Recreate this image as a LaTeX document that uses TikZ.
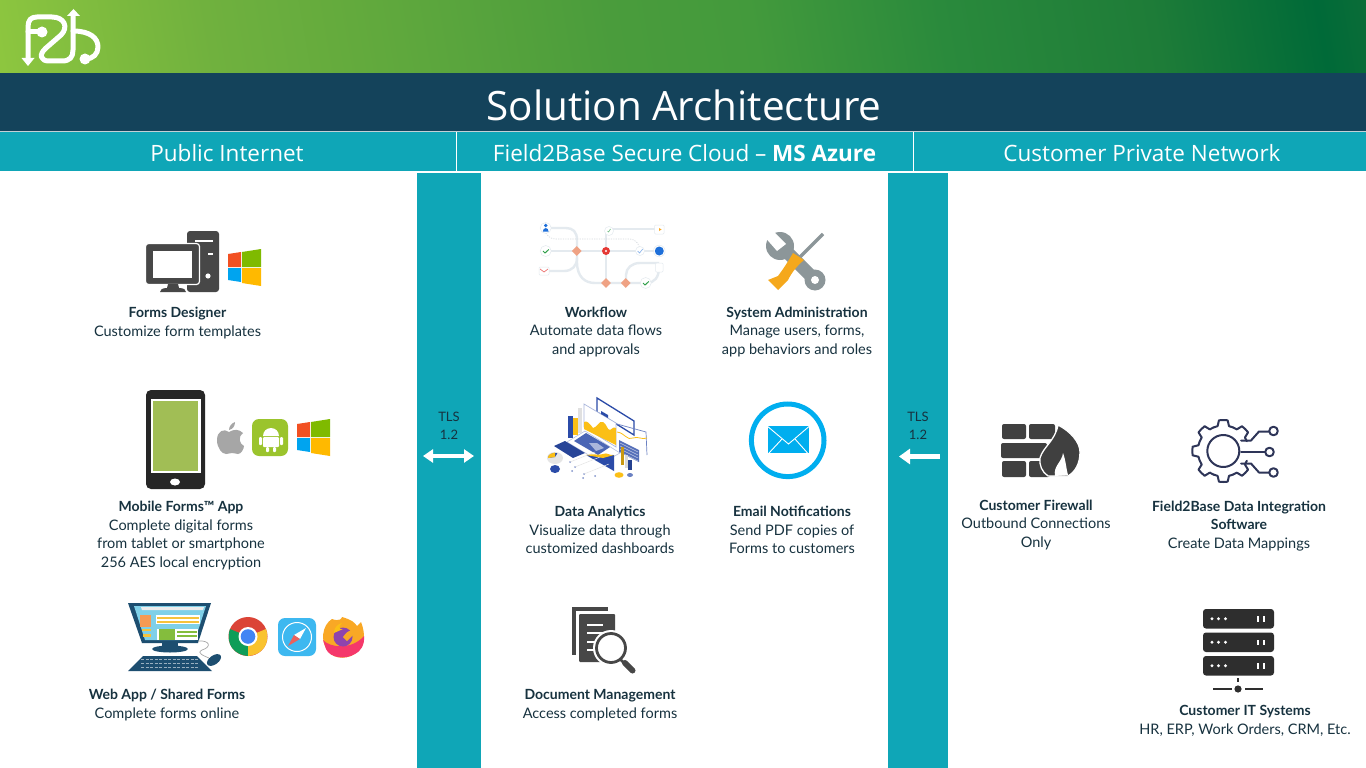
\documentclass[tikz,border=0pt]{standalone}
\usepackage{xcolor}
\usepackage{fontspec}
\usepackage{tikz}
\usetikzlibrary{arrows.meta}
\setmainfont{Lato}
\newfontfamily\headfont{Open Sans}

\definecolor{navyband}{HTML}{14435B}
\definecolor{tealband}{HTML}{0FA6B7}
\definecolor{labelcol}{HTML}{17323F}
\definecolor{icongray}{HTML}{474747}
\definecolor{winred}{HTML}{F25022}
\definecolor{wingreen}{HTML}{7FBA00}
\definecolor{winblue}{HTML}{00A4EF}
\definecolor{winyellow}{HTML}{FFB900}
\definecolor{flowline}{HTML}{E4EAEF}
\definecolor{floworange}{HTML}{EFA284}
\definecolor{flowcheck}{HTML}{2E9E48}
\definecolor{flowblue}{HTML}{1E6FD9}
\definecolor{flowred}{HTML}{E53935}
\definecolor{chartblue}{HTML}{2B4BA8}
\definecolor{chartyellow}{HTML}{FBBF16}
\definecolor{gearblue}{HTML}{2E3558}
\definecolor{mailblue}{HTML}{00AEEF}
\definecolor{webnavy}{HTML}{1D4E70}
\definecolor{websky}{HTML}{7FD0E8}
\definecolor{weborange}{HTML}{F79A52}
\definecolor{webyellow}{HTML}{F6C33B}
\definecolor{webgreen}{HTML}{84BD3D}
\definecolor{phonegreen}{HTML}{A1BE55}
\definecolor{androidgreen}{HTML}{9BC42D}
\definecolor{chromered}{HTML}{DB4437}
\definecolor{chromegreen}{HTML}{0F9D58}
\definecolor{chromeyellow}{HTML}{F9C32F}
\definecolor{chromeblue}{HTML}{4285F4}
\definecolor{safarisky}{HTML}{3DB8F0}
\definecolor{foxorange}{HTML}{F9A825}
\definecolor{foxpink}{HTML}{F5386B}
\definecolor{foxpurple}{HTML}{8E44AD}
\definecolor{toolgray}{HTML}{8C9699}
\definecolor{toolorange}{HTML}{F5A81C}
\definecolor{bannera}{HTML}{8DC63F}
\definecolor{bannerb}{HTML}{70B13E}
\definecolor{bannerc}{HTML}{5FA83D}
\definecolor{bannerd}{HTML}{4A9C3C}
\definecolor{bannere}{HTML}{439A3C}
\definecolor{bannerf}{HTML}{2A8A3C}
\definecolor{bannerg}{HTML}{1E7C38}
\definecolor{bannerh}{HTML}{006A38}
\definecolor{banneri}{HTML}{0F6E38}

\pgfdeclarehorizontalshading{bannershade}{100bp}{
  color(0bp)=(bannera);
  color(21bp)=(bannera);
  color(30bp)=(bannerb);
  color(38bp)=(bannerc);
  color(47bp)=(bannerd);
  color(53bp)=(bannere);
  color(61bp)=(bannerf);
  color(70bp)=(bannerg);
  color(77bp)=(bannerh);
  color(80bp)=(banneri);
  color(100bp)=(banneri)}

\tikzset{
  title/.style={text=white,font=\headfont\fontsize{40.4}{46}\selectfont,inner sep=0pt},
  header/.style={text=white,font=\headfont\fontsize{22.5}{28}\selectfont,inner sep=0pt},
  lbl/.style={text=labelcol,align=center,inner sep=0pt,font=\fontsize{14.5}{18.5}\selectfont},
  tls/.style={text=labelcol,align=center,inner sep=0pt,font=\fontsize{13}{18}\selectfont},
  tlsarrow/.style={white,line width=4pt,{Triangle[length=10pt,width=13pt]}-{Triangle[length=10pt,width=13pt]}},
  tlsleft/.style={white,line width=5pt,{Triangle[length=11pt,width=15pt]}-},
  logoline/.style={white,line width=5pt,line cap=round,line join=round},
  flow/.style={flowline,line width=2.4pt},
  flowdot/.style={white,draw=flowline,line width=0.5pt},
  gearline/.style={gearblue,line width=2pt,line cap=round,line join=round}
}

\newcommand{\lblhead}[1]{{\fontsize{14}{18.5}\selectfont\bfseries #1}}

\newcommand{\winlogo}[2]{
  \fill[winred] (#1,#2+5) -- (#1+13,#2+3) -- (#1+13,#2+18) -- (#1,#2+18) -- cycle;
  \fill[wingreen] (#1+14,#2+3) -- (#1+33,#2) -- (#1+33,#2+18) -- (#1+14,#2+18) -- cycle;
  \fill[winblue] (#1,#2+19) -- (#1+13,#2+19) -- (#1+13,#2+33) -- (#1,#2+31) -- cycle;
  \fill[winyellow] (#1+14,#2+19) -- (#1+33,#2+19) -- (#1+33,#2+37) -- (#1+14,#2+34) -- cycle;
}

\begin{document}
\begin{tikzpicture}[x=1pt,y=-1pt]
  \useasboundingbox (0,0) rectangle (1366,768);
  \fill[white] (0,0) rectangle (1366,768);

  % bands
  \shade[shading=bannershade,shading angle=10] (0,0) rectangle (1366,73);
  \fill[navyband] (0,73) rectangle (1366,131);
  \fill[tealband] (0,132) rectangle (1366,171);
  \fill[tealband] (417,173) rectangle (481,768);
  \fill[tealband] (888,173) rectangle (948,768);
  \draw[white,line width=0.8pt] (456,132) -- (456,171);
  \draw[white,line width=0.8pt] (913,132) -- (913,171);
  \draw[white!75!navyband,line width=1pt] (0,131.5) -- (1366,131.5);

  \node[title] (titletext) at (684,105) {Solution Architecture};
  \node[header] (pubhead) at (227,153) {Public Internet};
  \node[header] (cloudhead) at (684.5,153) {Field2Base Secure Cloud – \textbf{MS Azure}};
  \node[header] (privhead) at (1142,153) {Customer Private Network};

  % logo
  \draw[logoline] (28,58) -- (28,27) .. controls (28,20) and (31,17) .. (37,17) -- (52,17)
    .. controls (64,17) and (69,27) .. (61,35) -- (46,48) .. controls (38,55) and (41,61) .. (49,61)
    -- (62,61) .. controls (70,61) and (73,57) .. (73,50) -- (73,16);
  \draw[logoline] (28,32) -- (42,32);
  \draw[logoline] (73,31) .. controls (90,31) and (98,38) .. (98,47) .. controls (98,54) and (93,59) .. (85,59);
  \fill[white] (42,32) circle (5.5);
  \fill[white] (85,59) circle (5.5);
  \fill[white] (21.5,58) -- (34.5,58) -- (28,66) -- cycle;
  \fill[white] (67,16) -- (80,16) -- (73.5,9) -- cycle;

  % forms designer
  \fill[icongray,rounded corners=3pt] (187,231) rectangle (219,292);
  \draw[white,line width=1.2pt] (195,241) -- (213,241);
  \draw[white,line width=1.2pt] (208,254) -- (213,254);
  \fill[white] (208,276) circle (2.6);
  \filldraw[fill=icongray,draw=white,line width=1.2pt,rounded corners=3pt] (145.5,243.5) rectangle (199.5,284.5);
  \fill[white] (153,251) rectangle (192,278);
  \fill[icongray] (168,284) -- (178,284) -- (179,288) .. controls (184,288) and (186,290) .. (186,292)
    -- (160,292) .. controls (160,290) and (162,288) .. (167,288) -- cycle;
  \winlogo{228}{249}

  % mobile app
  \fill[black!85,rounded corners=5pt] (146,390) rectangle (205,489);
  \fill[white] (151,399) rectangle (200.5,473);
  \fill[phonegreen] (153,401) rectangle (198,471);
  \fill[white] (175,482) ellipse (5 and 3.5);
  \fill[gray!70] (229,432) .. controls (224,428) and (217,431) .. (217,440) .. controls (217,448) and (222,454) .. (226,454)
    .. controls (228,454) and (230,453) .. (232,453) .. controls (235,453) and (236,454) .. (238,454)
    .. controls (241,454) and (244,449) .. (244,446) .. controls (239,444) and (238,436) .. (243,433)
    .. controls (239,429) and (234,429) .. cycle;
  \fill[gray!70] (229,430) .. controls (229,426) and (232,423) .. (235,422) .. controls (235,426) and (233,429) .. (229,430) -- cycle;
  \fill[androidgreen,rounded corners=7pt] (252,419) rectangle (288,456);
  \fill[white] (263,436) arc[start angle=180,end angle=360,x radius=8,y radius=8] -- cycle;
  \fill[white,rounded corners=1pt] (263,437) rectangle (279,447);
  \fill[white,rounded corners=1pt] (259,437) rectangle (262,445);
  \fill[white,rounded corners=1pt] (280,437) rectangle (283,445);
  \fill[white,rounded corners=1pt] (266,447) rectangle (269,452);
  \fill[white,rounded corners=1pt] (273,447) rectangle (276,452);
  \winlogo{297}{419}

  % web app
  \fill[webnavy] (128,603) -- (211,603) -- (198,643) -- (142,643) -- cycle;
  \fill[websky] (134,606) -- (206,606) -- (195,640) -- (145,640) -- cycle;
  \fill[white!85!gray] (141,607) -- (204,607) -- (203,610) -- (142,610) -- cycle;
  \fill[weborange] (140,615) rectangle (151,627);
  \fill[webyellow] (142,629) rectangle (151,631);
  \fill[webyellow] (143,634) rectangle (151,637);
  \fill[white] (156,615) rectangle (200,624);
  \fill[webyellow] (157,617) rectangle (199,619);
  \fill[webyellow] (157,621) rectangle (199,623);
  \fill[white] (157,629) rectangle (198,640);
  \fill[webgreen] (159,629) rectangle (175,640);
  \fill[webgreen] (177,631) rectangle (197,633);
  \fill[webgreen] (177,635) rectangle (197,637);
  \fill[webnavy] (162,643) rectangle (178,648);
  \fill[webnavy] (170,649) ellipse (18 and 3.5);
  \draw[gray!70,line width=0.7pt] (198,641) .. controls (210,640) and (212,647) .. (202,650) .. controls (196,653) and (204,656) .. (209,658);
  \fill[webnavy] (143,656) -- (197,656) -- (212,671) -- (128,671) -- cycle;
  \foreach \ky in {659,663,667}
    \draw[white!55!webnavy,line width=1pt,dash pattern=on 3pt off 1.5pt] (141,\ky) -- (199,\ky);
  \fill[webnavy,rotate around={35:(214,660)}] (214,660) ellipse (8 and 4.5);
  \fill[chromered] (248,636.5) circle (19.5);
  \fill[chromegreen] (248,636.5) -- (230,629) .. controls (225,645) and (235,655) .. (248,656) -- cycle;
  \fill[chromeyellow] (248,636.5) -- (266,629) .. controls (271,645) and (261,655) .. (248,656) -- cycle;
  \fill[white] (248,636.5) circle (9.5);
  \fill[chromeblue] (248,636.5) circle (7.3);
  \fill[safarisky,rounded corners=7pt] (278,618) rectangle (316,656);
  \draw[white,line width=1pt] (297,637) circle (14.5);
  \fill[white] (306,628) -- (294,635) -- (300,639) -- cycle;
  \fill[flowred!80] (288,646) -- (294,635) -- (300,639) -- cycle;
  \fill[foxorange] (332,619) .. controls (340,622) and (342,618) .. (342,617) .. controls (352,620) and (354,622) .. (357,626)
    .. controls (358,625) and (360,623) .. (361,622) .. controls (365,632) and (366,645) .. (358,651)
    .. controls (350,660) and (334,660) .. (328,651) .. controls (320,642) and (322,625) .. (332,619) -- cycle;
  \fill[foxpink] (323,640) .. controls (330,648) and (352,650) .. (364,636) .. controls (365,645) and (360,652) .. (355,654)
    .. controls (345,660) and (330,658) .. (326,649) -- cycle;
  \fill[foxpurple] (343,637) circle (9.5);
  \fill[foxorange] (343,637) .. controls (349,628) and (354,630) .. (358,633) .. controls (353,633) and (351,638) .. (347,641) -- cycle;
  \fill[chartyellow] (334,633) .. controls (334,627) and (338,624) .. (342,623) .. controls (338,627) and (339,630) .. (343,629) -- cycle;

  % workflow
  \draw[flow] (546,228) -- (566,228) .. controls (573,228) and (577,232) .. (577,240) -- (577,262)
    .. controls (577,277) and (585,283) .. (595,283) -- (646,283) .. controls (655,283) and (659,277) .. (659,267);
  \draw[flow] (546,251) -- (659,251);
  \draw[flow] (544,271) -- (564,271) .. controls (572,271) and (577,266) .. (577,258);
  \draw[flow] (606,231) -- (606,283);
  \draw[flow] (609,229) -- (659,229);
  \draw[flow] (626,283) -- (626,275) .. controls (626,268) and (632,263) .. (640,263) -- (659,263);
  \draw[flowline!85!gray,line width=0.7pt,dash pattern=on 1.2pt off 1.2pt] (546,233) .. controls (549,238) and (552,239) .. (556,239) -- (630,239) .. controls (636,239) and (640,245) .. (640,251);
  \filldraw[flowdot] (545.7,228) circle (5.5);
  \fill[flowblue] (545.7,225.5) circle (1.8);
  \fill[flowblue] (542.8,231.5) .. controls (543,227) and (548.5,227) .. (548.6,231.5) -- cycle;
  \filldraw[flowdot] (609,231) circle (4.5);
  \draw[flowcheck!70,line width=0.6pt] (607.5,231) -- (608.5,232) -- (610.5,229);
  \filldraw[flowdot,rounded corners=1pt] (654.5,225) rectangle (664,234);
  \fill[foxorange] (659,228) -- (661.5,229.5) -- (659,231) -- cycle;
  \filldraw[flowdot] (545.7,251) circle (5.5);
  \draw[flowcheck,line width=1pt] (543,251) -- (545,253) -- (548.8,249.5);
  \fill[floworange,rotate around={45:(576.7,251)}] (573.2,247.5) rectangle (580.2,254.5);
  \fill[flowred] (606,251) circle (4);
  \fill[white] (606,251) circle (1.1);
  \filldraw[flowdot] (640,251) circle (4.5);
  \draw[flowblue!50,line width=0.7pt] (637.5,251) -- (639.5,253) -- (642.8,249);
  \filldraw[flowdot] (659.3,251) circle (5.8);
  \fill[flowblue] (659.3,251) circle (4.5);
  \filldraw[flowdot,rounded corners=1pt] (539,267) rectangle (549,275);
  \draw[flowred!70,line width=0.7pt] (540,269) -- (544,272) -- (548,269);
  \filldraw[flowdot,rounded corners=1pt] (655.5,263) rectangle (663,272);
  \fill[floworange,rotate around={45:(606,283)}] (602.5,279.5) rectangle (609.5,286.5);
  \fill[floworange,rotate around={45:(625.7,283)}] (622.2,279.5) rectangle (629.2,286.5);
  \filldraw[flowdot] (645.7,283) circle (5.5);
  \draw[flowcheck,line width=1pt] (643,283) -- (645,285) -- (648.8,281.5);

  % system administration
  \draw[toolgray,line width=3.5pt] (823,234) -- (800,257);
  \draw[toolgray,line width=13pt] (780,245) -- (815,280);
  \fill[toolgray] (780,246) circle (14);
  \fill[white] (771,229) -- (786,244) -- (777,251) -- (763,235) -- cycle;
  \fill[toolgray] (815,280) circle (10.5);
  \fill[white] (815,280) circle (4);
  \fill[toolorange] (793,253) -- (804,260) .. controls (797,266) and (792,272) .. (788,280) -- (778,290)
    -- (768,280) -- (778,276) .. controls (784,268) and (789,260) .. cycle;

  % data analytics
  \filldraw[fill=white,draw=chartblue,line width=1.3pt] (597,398) -- (634,421) -- (634,435) -- (597,412) -- cycle;
  \draw[chartblue!70,line width=0.7pt] (617,424) -- (646,432) -- (647,455);
  \draw[chartyellow,line width=0.8pt] (617,432) .. controls (625,433) and (627,441) .. (633,438) .. controls (638,436) and (642,440) .. (647,438);
  \filldraw[fill=white,draw=chartblue!40,line width=0.7pt] (584,404) -- (616,423) -- (616,447) -- (584,427) -- cycle;
  \fill[chartblue] (601,411) -- (608,415) -- (608,418) -- (601,414) -- cycle;
  \fill[chartyellow] (584,422) .. controls (587,420) and (590,424) .. (593,428) .. controls (597,428) and (599,420) .. (603,422)
    .. controls (607,424) and (607,430) .. (610,430) .. controls (613,428) and (615,426) .. (616,428) -- (616,445) -- (584,429) -- cycle;
  \filldraw[fill=white,draw=chartblue!35,line width=0.6pt] (567,442) -- (585,431) -- (620,453) -- (602,463) -- cycle;
  \fill[chartblue!85] (586,433) -- (610,447) -- (598,455) -- (574,441) -- cycle;
  \fill[chartblue!40] (589,443) -- (597,443) -- (604,448) -- (596,451) -- cycle;
  \fill[chartblue!90!black] (554,446) -- (565,441) -- (585,453) -- (573,458) -- cycle;
  \fill[chartblue!80] (619,440) -- (639,450) -- (639,462) -- (619,452) -- cycle;
  \foreach \hy in {443,446,449,452}
    \draw[white!70!chartblue,line width=0.5pt] (620,\hy) -- (638,\hy+9);
  \fill[chartblue] (568,416) rectangle (573,438);
  \fill[chartyellow] (573,418) rectangle (578,435);
  \fill[black!12] (578,408) rectangle (582,433);
  \fill[chartblue] (586,455) -- (614,455) -- (614,471) -- cycle;
  \fill[chartyellow] (586,455) .. controls (594,453) and (598,456) .. (603,454) .. controls (607,452) and (610,456) .. (614,455) -- (603,458) -- cycle;
  \fill[chartyellow!80!black] (621,447) rectangle (624,465);
  \fill[black!15] (625,455) rectangle (628,468);
  \fill[chartblue!85!black] (628,460) rectangle (632,470);
  \fill[black!10] (555,458) ellipse (8 and 6);
  \fill[chartblue] (555,457) -- (548,458) arc[start angle=180,end angle=290,x radius=7,y radius=5] -- cycle;
  \fill[chartyellow] (555,457) -- (548,458) .. controls (548,454) and (552,453) .. (555,452.5) -- cycle;
  \fill[chartblue] (555,469) ellipse (5 and 4);
  \fill[chartyellow] (619,475) ellipse (4.5 and 2.8);
  \fill[chartblue!70] (630,475) ellipse (3 and 2);
  \foreach \lx/\ly in {570/462,575/467,572/471,584/474,583/478,595/476}
    \fill[chartblue!60] (\lx,\ly) circle (1);
  \foreach \lx/\ly in {570/462,575/467,584/474}
    \draw[black!10,line width=0.5pt] (\lx,\ly) -- (\lx+25,\ly-10);

  % email
  \draw[mailblue,line width=5pt] (787.7,440.3) circle (36.3);
  \fill[mailblue] (767.7,426) rectangle (809,453);
  \draw[white,line width=0.9pt] (767.7,426.5) -- (788.5,444) -- (809,426.5);
  \draw[white,line width=0.9pt] (769,453) -- (782,439);
  \draw[white,line width=0.9pt] (807.5,453) -- (795,439);

  % document management
  \fill[icongray] (572,607) rectangle (608,655);
  \fill[white] (576,611) rectangle (612,662);
  \fill[icongray,rounded corners=1pt] (579,614) rectangle (615,662);
  \draw[white,line width=1.6pt] (587,625) -- (603,625);
  \draw[white,line width=1.6pt] (587,633) -- (603,633);
  \draw[white,line width=1.6pt] (587,642) -- (595,642);
  \draw[white,line width=1.6pt] (587,650) -- (595,650);
  \fill[white] (611,648) circle (18);
  \draw[icongray,line width=2.8pt] (611,648) circle (14.5);
  \draw[icongray,line width=2.5pt] (620,659) -- (624,663);
  \draw[icongray,line width=6pt,line cap=round] (625,663) -- (632.5,670.5);

  % firewall
  \fill[icongray!90!black,rounded corners=2pt] (1002,424) rectangle (1026,439);
  \fill[icongray!90!black,rounded corners=2pt] (1029,424) rectangle (1055,439);
  \fill[icongray!90!black,rounded corners=2pt] (1001,443) rectangle (1047,458);
  \fill[icongray!90!black,rounded corners=2pt] (1002,461) rectangle (1026,477);
  \fill[icongray!90!black,rounded corners=2pt] (1029,461) rectangle (1050,477);
  \filldraw[fill=icongray!90!black,draw=white,line width=1.3pt] (1058,425) .. controls (1070,431) and (1080,442) .. (1080,452)
    .. controls (1080,464) and (1075,472) .. (1068,476) -- (1048,476)
    .. controls (1042,472) and (1039,465) .. (1040,458) .. controls (1043,447) and (1055,441) .. cycle;
  \fill[white] (1068,475) .. controls (1066,468) and (1066,461) .. (1063,453) .. controls (1062,462) and (1053,466) .. (1055,476) -- cycle;

  % data integration
  \draw[gearline] (1223.3,451) circle (16);
  \foreach \a in {45,90,...,315}
    \draw[gearline] ([shift={(1223.3,451)}]\a-22.5:25.5) arc[start angle=\a-22.5,end angle=\a-13,radius=25.5]
      -- ([shift={(1223.3,451)}]\a-8:31) arc[start angle=\a-8,end angle=\a+8,radius=31]
      -- ([shift={(1223.3,451)}]\a+13:25.5) arc[start angle=\a+13,end angle=\a+22.5,radius=25.5];
  \draw[gearline] (1241,452) -- (1265,452);
  \draw[gearline] (1241,440.5) -- (1251,440.5) -- (1259,431.5) -- (1269,431.5);
  \draw[gearline] (1241,463.5) -- (1251,463.5) -- (1259,472.5) -- (1269,472.5);
  \draw[gearline] (1269.5,452) circle (4.3);
  \draw[gearline] (1273.5,431) circle (4.3);
  \draw[gearline] (1273.5,472.5) circle (4.3);

  % it systems
  \foreach \sy in {609,632.5,656} {
    \fill[black!82,rounded corners=3pt] (1203,\sy) rectangle (1274,\sy+19.5);
    \foreach \dx in {1212,1218.5,1225.5}
      \fill[white] (\dx,\sy+9.7) circle (1.6);
    \fill[white] (1256.5,\sy+7) rectangle (1259,\sy+12.5);
    \fill[white] (1262.5,\sy+7) rectangle (1265,\sy+12.5);
  }
  \draw[black!82,line width=1.3pt] (1238,678) -- (1238,682);
  \draw[black!82,line width=1.3pt] (1213,689) -- (1232,689);
  \draw[black!82,line width=1.3pt] (1245,689) -- (1263,689);
  \fill[black!82] (1238,689) circle (3.6);

  % labels
  \node[lbl] (formsdesigner) at (177.5,323) {\lblhead{Forms Designer}\\Customize form templates};
  \node[lbl] (mobileapp) at (181,535.5) {\lblhead{Mobile Forms™ App}\\Complete digital forms\\from tablet or smartphone\\256 AES local encryption};
  \node[lbl] (webapp) at (167,705) {\lblhead{Web App / Shared Forms}\\Complete forms online};
  \node[lbl] (workflow) at (596,332) {\lblhead{Workflow}\\Automate data flows\\and approvals};
  \node[lbl] (sysadmin) at (797,332) {\lblhead{System Administration}\\Manage users, forms,\\app behaviors and roles};
  \node[lbl] (analytics) at (600,530) {\lblhead{Data Analytics}\\Visualize data through\\customized dashboards};
  \node[lbl] (email) at (792,530) {\lblhead{Email Notifications}\\Send PDF copies of\\Forms to customers};
  \node[lbl] (docmgmt) at (600,705) {\lblhead{Document Management}\\Access completed forms};
  \node[lbl] (firewall) at (1036,525) {\lblhead{Customer Firewall}\\Outbound Connections\\Only};
  \node[lbl] (integration) at (1239,526) {\lblhead{Field2Base Data Integration}\\\lblhead{Software}\\Create Data Mappings};
  \node[lbl] (itsystems) at (1245,721) {\lblhead{Customer IT Systems}\\HR, ERP, Work Orders, CRM, Etc.};

  % tls
  \node[tls] (tlsone) at (449,426) {TLS\\1.2};
  \node[tls] (tlstwo) at (918,426) {TLS\\1.2};
  \coordinate (publicend) at (423,456);
  \coordinate (cloudend) at (474,456);
  \coordinate (gateend) at (899,456.5);
  \coordinate (customerend) at (940,456.5);
  \draw[tlsarrow] (publicend) -- (cloudend);
  \draw[tlsleft] (gateend) -- (customerend);
\end{tikzpicture}
\end{document}
